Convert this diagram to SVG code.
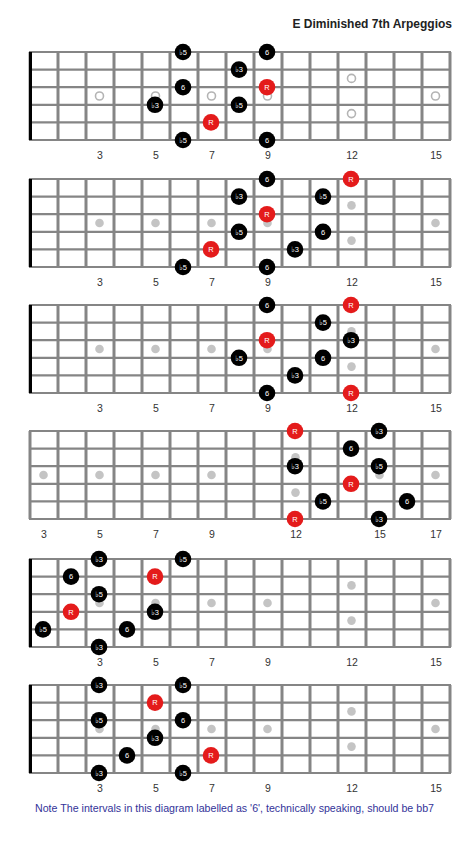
<svg xmlns="http://www.w3.org/2000/svg" xmlns:xlink="http://www.w3.org/1999/xlink" width="474" height="845" viewBox="0 0 474 845">
<style>
.bg{fill:#fff}
.fret{stroke:#858585;stroke-width:3}
.str{stroke:#858585;stroke-width:2.2}
.nut{stroke:#000;stroke-width:3}
.inl{fill:#c4c4c4}
.inlo{fill:#fff;stroke:#b4b4b4;stroke-width:1.6}
.n{fill:#000}
.r{fill:#e41b1b}
.nt{fill:#fff;font-family:"Liberation Sans","DejaVu Sans",sans-serif;font-size:7.5px;text-anchor:middle}
.fn{fill:#333;font-family:"Liberation Sans",Arial,sans-serif;font-size:10.5px;text-anchor:middle}
.title{fill:#222;font-family:"Liberation Sans",Arial,sans-serif;font-size:12px;font-weight:bold;text-anchor:end}
.note{fill:#333399;font-family:"Liberation Sans",Arial,sans-serif;font-size:10.6px}
</style>
<defs>
<g id="grid">
<line class="fret" x1="30" y1="0" x2="30" y2="88"/>
<line class="fret" x1="58" y1="0" x2="58" y2="88"/>
<line class="fret" x1="86" y1="0" x2="86" y2="88"/>
<line class="fret" x1="114" y1="0" x2="114" y2="88"/>
<line class="fret" x1="142" y1="0" x2="142" y2="88"/>
<line class="fret" x1="170" y1="0" x2="170" y2="88"/>
<line class="fret" x1="198" y1="0" x2="198" y2="88"/>
<line class="fret" x1="226" y1="0" x2="226" y2="88"/>
<line class="fret" x1="254" y1="0" x2="254" y2="88"/>
<line class="fret" x1="282" y1="0" x2="282" y2="88"/>
<line class="fret" x1="310" y1="0" x2="310" y2="88"/>
<line class="fret" x1="338" y1="0" x2="338" y2="88"/>
<line class="fret" x1="366" y1="0" x2="366" y2="88"/>
<line class="fret" x1="394" y1="0" x2="394" y2="88"/>
<line class="fret" x1="422" y1="0" x2="422" y2="88"/>
<line class="fret" x1="450" y1="0" x2="450" y2="88"/>
<line class="str" x1="29" y1="0" x2="451" y2="0"/>
<line class="str" x1="29" y1="17.6" x2="451" y2="17.6"/>
<line class="str" x1="29" y1="35.2" x2="451" y2="35.2"/>
<line class="str" x1="29" y1="52.8" x2="451" y2="52.8"/>
<line class="str" x1="29" y1="70.4" x2="451" y2="70.4"/>
<line class="str" x1="29" y1="88" x2="451" y2="88"/>
</g>
<line id="nutl" class="nut" x1="30.5" y1="0" x2="30.5" y2="88"/>
<g id="inlays">
<circle class="inl" cx="99.5" cy="44" r="4.3"/>
<circle class="inl" cx="155.5" cy="44" r="4.3"/>
<circle class="inl" cx="211.5" cy="44" r="4.3"/>
<circle class="inl" cx="267.5" cy="44" r="4.3"/>
<circle class="inl" cx="351.5" cy="26.4" r="4.3"/>
<circle class="inl" cx="351.5" cy="61.6" r="4.3"/>
<circle class="inl" cx="435.5" cy="44" r="4.3"/>
</g>
<g id="labels">
<text class="fn" x="100" y="107">3</text>
<text class="fn" x="156" y="107">5</text>
<text class="fn" x="212" y="107">7</text>
<text class="fn" x="268" y="107">9</text>
<text class="fn" x="352" y="107">12</text>
<text class="fn" x="436" y="107">15</text>
</g>
</defs>

<text id="title" class="title" x="452" y="28">E Diminished 7th Arpeggios</text>

<g id="diagram1" transform="translate(0,52)">
<use xlink:href="#grid"/>
<use xlink:href="#nutl"/>
<g id="d1-inlays">
<circle class="inlo" cx="99.5" cy="44" r="4"/>
<circle class="inlo" cx="155.5" cy="44" r="4"/>
<circle class="inlo" cx="211.5" cy="44" r="4"/>
<circle class="inlo" cx="267.5" cy="44" r="4"/>
<circle class="inlo" cx="351.5" cy="26.4" r="4"/>
<circle class="inlo" cx="351.5" cy="61.6" r="4"/>
<circle class="inlo" cx="435.5" cy="44" r="4"/>
</g>
<use xlink:href="#labels"/>
<g id="d1-n1"><circle class="n" cx="183" cy="0" r="8.3"/><text class="nt" x="183" y="2.7">♭5</text></g>
<g id="d1-n2"><circle class="n" cx="267" cy="0" r="8.3"/><text class="nt" x="267" y="2.7">6</text></g>
<g id="d1-n3"><circle class="n" cx="239" cy="17.6" r="8.3"/><text class="nt" x="239" y="20.3">♭3</text></g>
<g id="d1-n4"><circle class="n" cx="183" cy="35.2" r="8.3"/><text class="nt" x="183" y="37.9">6</text></g>
<g id="d1-n5"><circle class="r" cx="267" cy="35.2" r="8.3"/><text class="nt" x="267" y="37.9">R</text></g>
<g id="d1-n6"><circle class="n" cx="155" cy="52.8" r="8.3"/><text class="nt" x="155" y="55.5">♭3</text></g>
<g id="d1-n7"><circle class="n" cx="239" cy="52.8" r="8.3"/><text class="nt" x="239" y="55.5">♭5</text></g>
<g id="d1-n8"><circle class="r" cx="211" cy="70.4" r="8.3"/><text class="nt" x="211" y="73.1">R</text></g>
<g id="d1-n9"><circle class="n" cx="183" cy="88" r="8.3"/><text class="nt" x="183" y="90.7">♭5</text></g>
<g id="d1-n10"><circle class="n" cx="267" cy="88" r="8.3"/><text class="nt" x="267" y="90.7">6</text></g>
</g>

<g id="diagram2" transform="translate(0,179)">
<use xlink:href="#grid"/>
<use xlink:href="#nutl"/>
<use xlink:href="#inlays"/>
<use xlink:href="#labels"/>
<g id="d2-n1"><circle class="n" cx="267" cy="0" r="8.3"/><text class="nt" x="267" y="2.7">6</text></g>
<g id="d2-n2"><circle class="r" cx="351" cy="0" r="8.3"/><text class="nt" x="351" y="2.7">R</text></g>
<g id="d2-n3"><circle class="n" cx="239" cy="17.6" r="8.3"/><text class="nt" x="239" y="20.3">♭3</text></g>
<g id="d2-n4"><circle class="n" cx="323" cy="17.6" r="8.3"/><text class="nt" x="323" y="20.3">♭5</text></g>
<g id="d2-n5"><circle class="r" cx="267" cy="35.2" r="8.3"/><text class="nt" x="267" y="37.9">R</text></g>
<g id="d2-n6"><circle class="n" cx="239" cy="52.8" r="8.3"/><text class="nt" x="239" y="55.5">♭5</text></g>
<g id="d2-n7"><circle class="n" cx="323" cy="52.8" r="8.3"/><text class="nt" x="323" y="55.5">6</text></g>
<g id="d2-n8"><circle class="r" cx="211" cy="70.4" r="8.3"/><text class="nt" x="211" y="73.1">R</text></g>
<g id="d2-n9"><circle class="n" cx="295" cy="70.4" r="8.3"/><text class="nt" x="295" y="73.1">♭3</text></g>
<g id="d2-n10"><circle class="n" cx="183" cy="88" r="8.3"/><text class="nt" x="183" y="90.7">♭5</text></g>
<g id="d2-n11"><circle class="n" cx="267" cy="88" r="8.3"/><text class="nt" x="267" y="90.7">6</text></g>
</g>

<g id="diagram3" transform="translate(0,305)">
<use xlink:href="#grid"/>
<use xlink:href="#nutl"/>
<use xlink:href="#inlays"/>
<use xlink:href="#labels"/>
<g id="d3-n1"><circle class="n" cx="267" cy="0" r="8.3"/><text class="nt" x="267" y="2.7">6</text></g>
<g id="d3-n2"><circle class="r" cx="351" cy="0" r="8.3"/><text class="nt" x="351" y="2.7">R</text></g>
<g id="d3-n3"><circle class="n" cx="323" cy="17.6" r="8.3"/><text class="nt" x="323" y="20.3">♭5</text></g>
<g id="d3-n4"><circle class="r" cx="267" cy="35.2" r="8.3"/><text class="nt" x="267" y="37.9">R</text></g>
<g id="d3-n5"><circle class="n" cx="351" cy="35.2" r="8.3"/><text class="nt" x="351" y="37.9">♭3</text></g>
<g id="d3-n6"><circle class="n" cx="239" cy="52.8" r="8.3"/><text class="nt" x="239" y="55.5">♭5</text></g>
<g id="d3-n7"><circle class="n" cx="323" cy="52.8" r="8.3"/><text class="nt" x="323" y="55.5">6</text></g>
<g id="d3-n8"><circle class="n" cx="295" cy="70.4" r="8.3"/><text class="nt" x="295" y="73.1">♭3</text></g>
<g id="d3-n9"><circle class="n" cx="267" cy="88" r="8.3"/><text class="nt" x="267" y="90.7">6</text></g>
<g id="d3-n10"><circle class="r" cx="351" cy="88" r="8.3"/><text class="nt" x="351" y="90.7">R</text></g>
</g>

<g id="diagram4" transform="translate(0,431)">
<use xlink:href="#grid"/>
<g id="d4-inlays">
<circle class="inl" cx="43.5" cy="44" r="4.3"/>
<circle class="inl" cx="99.5" cy="44" r="4.3"/>
<circle class="inl" cx="155.5" cy="44" r="4.3"/>
<circle class="inl" cx="211.5" cy="44" r="4.3"/>
<circle class="inl" cx="295.5" cy="26.4" r="4.3"/>
<circle class="inl" cx="295.5" cy="61.6" r="4.3"/>
<circle class="inl" cx="379.5" cy="44" r="4.3"/>
<circle class="inl" cx="435.5" cy="44" r="4.3"/>
</g>
<g id="d4-labels">
<text class="fn" x="44" y="107">3</text>
<text class="fn" x="100" y="107">5</text>
<text class="fn" x="156" y="107">7</text>
<text class="fn" x="212" y="107">9</text>
<text class="fn" x="296" y="107">12</text>
<text class="fn" x="380" y="107">15</text>
<text class="fn" x="436" y="107">17</text>
</g>
<g id="d4-n1"><circle class="r" cx="295" cy="0" r="8.3"/><text class="nt" x="295" y="2.7">R</text></g>
<g id="d4-n2"><circle class="n" cx="379" cy="0" r="8.3"/><text class="nt" x="379" y="2.7">♭3</text></g>
<g id="d4-n3"><circle class="n" cx="351" cy="17.6" r="8.3"/><text class="nt" x="351" y="20.3">6</text></g>
<g id="d4-n4"><circle class="n" cx="295" cy="35.2" r="8.3"/><text class="nt" x="295" y="37.9">♭3</text></g>
<g id="d4-n5"><circle class="n" cx="379" cy="35.2" r="8.3"/><text class="nt" x="379" y="37.9">♭5</text></g>
<g id="d4-n6"><circle class="r" cx="351" cy="52.8" r="8.3"/><text class="nt" x="351" y="55.5">R</text></g>
<g id="d4-n7"><circle class="n" cx="323" cy="70.4" r="8.3"/><text class="nt" x="323" y="73.1">♭5</text></g>
<g id="d4-n8"><circle class="n" cx="407" cy="70.4" r="8.3"/><text class="nt" x="407" y="73.1">6</text></g>
<g id="d4-n9"><circle class="r" cx="295" cy="88" r="8.3"/><text class="nt" x="295" y="90.7">R</text></g>
<g id="d4-n10"><circle class="n" cx="379" cy="88" r="8.3"/><text class="nt" x="379" y="90.7">♭3</text></g>
</g>

<g id="diagram5" transform="translate(0,559)">
<use xlink:href="#grid"/>
<use xlink:href="#nutl"/>
<use xlink:href="#inlays"/>
<use xlink:href="#labels"/>
<g id="d5-n1"><circle class="n" cx="99" cy="0" r="8.3"/><text class="nt" x="99" y="2.7">♭3</text></g>
<g id="d5-n2"><circle class="n" cx="183" cy="0" r="8.3"/><text class="nt" x="183" y="2.7">♭5</text></g>
<g id="d5-n3"><circle class="n" cx="71" cy="17.6" r="8.3"/><text class="nt" x="71" y="20.3">6</text></g>
<g id="d5-n4"><circle class="r" cx="155" cy="17.6" r="8.3"/><text class="nt" x="155" y="20.3">R</text></g>
<g id="d5-n5"><circle class="n" cx="99" cy="35.2" r="8.3"/><text class="nt" x="99" y="37.9">♭5</text></g>
<g id="d5-n6"><circle class="r" cx="71" cy="52.8" r="8.3"/><text class="nt" x="71" y="55.5">R</text></g>
<g id="d5-n7"><circle class="n" cx="155" cy="52.8" r="8.3"/><text class="nt" x="155" y="55.5">♭3</text></g>
<g id="d5-n8"><circle class="n" cx="43" cy="70.4" r="8.3"/><text class="nt" x="43" y="73.1">♭5</text></g>
<g id="d5-n9"><circle class="n" cx="127" cy="70.4" r="8.3"/><text class="nt" x="127" y="73.1">6</text></g>
<g id="d5-n10"><circle class="n" cx="99" cy="88" r="8.3"/><text class="nt" x="99" y="90.7">♭3</text></g>
</g>

<g id="diagram6" transform="translate(0,685)">
<use xlink:href="#grid"/>
<use xlink:href="#nutl"/>
<use xlink:href="#inlays"/>
<use xlink:href="#labels"/>
<g id="d6-n1"><circle class="n" cx="99" cy="0" r="8.3"/><text class="nt" x="99" y="2.7">♭3</text></g>
<g id="d6-n2"><circle class="n" cx="183" cy="0" r="8.3"/><text class="nt" x="183" y="2.7">♭5</text></g>
<g id="d6-n3"><circle class="r" cx="155" cy="17.6" r="8.3"/><text class="nt" x="155" y="20.3">R</text></g>
<g id="d6-n4"><circle class="n" cx="99" cy="35.2" r="8.3"/><text class="nt" x="99" y="37.9">♭5</text></g>
<g id="d6-n5"><circle class="n" cx="183" cy="35.2" r="8.3"/><text class="nt" x="183" y="37.9">6</text></g>
<g id="d6-n6"><circle class="n" cx="155" cy="52.8" r="8.3"/><text class="nt" x="155" y="55.5">♭3</text></g>
<g id="d6-n7"><circle class="n" cx="127" cy="70.4" r="8.3"/><text class="nt" x="127" y="73.1">6</text></g>
<g id="d6-n8"><circle class="r" cx="211" cy="70.4" r="8.3"/><text class="nt" x="211" y="73.1">R</text></g>
<g id="d6-n9"><circle class="n" cx="99" cy="88" r="8.3"/><text class="nt" x="99" y="90.7">♭3</text></g>
<g id="d6-n10"><circle class="n" cx="183" cy="88" r="8.3"/><text class="nt" x="183" y="90.7">♭5</text></g>
</g>

<text id="footnote" class="note" x="35" y="811.5" textLength="399" lengthAdjust="spacingAndGlyphs">Note The intervals in this diagram labelled as '6', technically speaking, should be bb7</text>
</svg>
